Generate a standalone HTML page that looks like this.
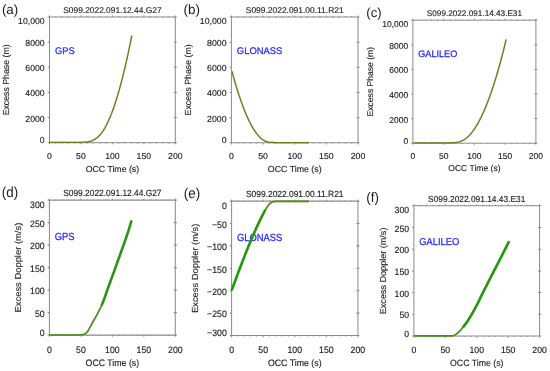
<!DOCTYPE html>
<html><head><meta charset="utf-8"><style>
html,body{margin:0;padding:0;background:#fff;}
body{width:550px;height:371px;overflow:hidden;}
svg{display:block;font-family:"Liberation Sans",sans-serif;filter:blur(0.35px);text-rendering:geometricPrecision;}
text{stroke-width:0.14px;stroke-linejoin:round;}
text.ns{stroke:none;}
text.bl{stroke-width:0.25px;}
</style></head><body>
<svg width="550" height="371" viewBox="0 0 550 371">
<rect width="550" height="371" fill="#fff"/>
<g transform="matrix(1.00000,0,0,1.00000,0.0000,0.0000)">
<text transform="translate(1.9,13.7) scale(1,1.0)" font-size="13.4" fill="#1e1e1e" stroke="#1e1e1e" class="ns">(a)</text>
<text transform="translate(112.4,13.0) scale(1,1.0)" font-size="8.4" text-anchor="middle" fill="#1e1e1e" stroke="#1e1e1e">S099.2022.091.12.44.G27</text>
<text transform="translate(44.7,24) scale(1,1.0)" font-size="8.7" text-anchor="end" fill="#1e1e1e" stroke="#1e1e1e">10,000</text>
<text transform="translate(44.7,46.14) scale(1,1.0)" font-size="8.7" text-anchor="end" fill="#1e1e1e" stroke="#1e1e1e">8000</text>
<text transform="translate(44.7,71.28) scale(1,1.0)" font-size="8.7" text-anchor="end" fill="#1e1e1e" stroke="#1e1e1e">6000</text>
<text transform="translate(44.7,96.42) scale(1,1.0)" font-size="8.7" text-anchor="end" fill="#1e1e1e" stroke="#1e1e1e">4000</text>
<text transform="translate(44.7,121.56) scale(1,1.0)" font-size="8.7" text-anchor="end" fill="#1e1e1e" stroke="#1e1e1e">2000</text>
<text transform="translate(44.7,143.2) scale(1,1.0)" font-size="8.7" text-anchor="end" fill="#1e1e1e" stroke="#1e1e1e">0</text>
<text transform="translate(49.5,159.0) scale(1,1.0)" font-size="8.7" text-anchor="middle" fill="#1e1e1e" stroke="#1e1e1e">0</text>
<text transform="translate(80.95,159.0) scale(1,1.0)" font-size="8.7" text-anchor="middle" fill="#1e1e1e" stroke="#1e1e1e">50</text>
<text transform="translate(112.4,159.0) scale(1,1.0)" font-size="8.7" text-anchor="middle" fill="#1e1e1e" stroke="#1e1e1e">100</text>
<text transform="translate(143.85,159.0) scale(1,1.0)" font-size="8.7" text-anchor="middle" fill="#1e1e1e" stroke="#1e1e1e">150</text>
<text transform="translate(175.3,159.0) scale(1,1.0)" font-size="8.7" text-anchor="middle" fill="#1e1e1e" stroke="#1e1e1e">200</text>
<text transform="translate(112.4,171.6) scale(1,1.0)" font-size="8.75" text-anchor="middle" fill="#1e1e1e" stroke="#1e1e1e">OCC Time (s)</text>
<text transform="translate(9.2,79.85) rotate(-90) scale(1,1.0)" font-size="8.75" text-anchor="middle" fill="#1e1e1e" stroke="#1e1e1e">Excess Phase (m)</text>
<text transform="translate(54.9,54.4) scale(1,1.03)" font-size="9.35" fill="#2828ff" stroke="#2828ff" class="bl">GPS</text>
<path d="M49.5 17H175.3V142.7H49.5ZM49.5 142.7v1.6M49.5 17v-1.6M55.79 142.7v0.9M55.79 17v-0.9M62.08 142.7v0.9M62.08 17v-0.9M68.37 142.7v0.9M68.37 17v-0.9M74.66 142.7v0.9M74.66 17v-0.9M80.95 142.7v1.6M80.95 17v-1.6M87.24 142.7v0.9M87.24 17v-0.9M93.53 142.7v0.9M93.53 17v-0.9M99.82 142.7v0.9M99.82 17v-0.9M106.11 142.7v0.9M106.11 17v-0.9M112.4 142.7v1.6M112.4 17v-1.6M118.69 142.7v0.9M118.69 17v-0.9M124.98 142.7v0.9M124.98 17v-0.9M131.27 142.7v0.9M131.27 17v-0.9M137.56 142.7v0.9M137.56 17v-0.9M143.85 142.7v1.6M143.85 17v-1.6M150.14 142.7v0.9M150.14 17v-0.9M156.43 142.7v0.9M156.43 17v-0.9M162.72 142.7v0.9M162.72 17v-0.9M169.01 142.7v0.9M169.01 17v-0.9M175.3 142.7v1.6M175.3 17v-1.6M49.5 17h-1.8M173.8 17h3M49.5 42.14h-1.8M173.8 42.14h3M49.5 67.28h-1.8M173.8 67.28h3M49.5 92.42h-1.8M173.8 92.42h3M49.5 117.56h-1.8M173.8 117.56h3M49.5 142.7h-1.8M173.8 142.7h3" fill="none" stroke="#8a8a8a" stroke-width="1"/>
</g>
<polyline points="49.8,142.45 51.33,142.45 52.85,142.45 54.38,142.45 55.91,142.45 57.44,142.45 58.96,142.45 60.49,142.45 62.02,142.45 63.55,142.45 65.07,142.45 66.6,142.45 68.13,142.45 69.66,142.45 71.18,142.44 72.71,142.44 74.24,142.44 75.77,142.43 77.29,142.41 78.82,142.39 80.35,142.36 81.87,142.31 83.4,142.24 84.92,142.13 86.44,141.98 87.95,141.76 89.45,141.46 90.92,141.06 92.36,140.54 93.75,139.91 95.08,139.16 96.34,138.3 97.54,137.35 98.66,136.31 99.71,135.21 100.71,134.05 101.65,132.85 102.55,131.61 103.39,130.34 104.2,129.04 104.98,127.73 105.72,126.39 106.44,125.04 107.12,123.68 107.79,122.31 108.43,120.92 109.06,119.53 109.67,118.12 110.26,116.72 110.83,115.3 111.39,113.88 111.94,112.45 112.48,111.02 113,109.59 113.51,108.15 114.02,106.71 114.51,105.26 114.99,103.81 115.47,102.36 115.93,100.91 116.39,99.45 116.85,97.99 117.29,96.53 117.73,95.07 118.16,93.6 118.59,92.14 119.01,90.67 119.42,89.2 119.83,87.73 120.23,86.25 120.63,84.78 121.03,83.3 121.42,81.83 121.8,80.35 122.18,78.87 122.56,77.39 122.93,75.91 123.3,74.42 123.66,72.94 124.02,71.46 124.38,69.97 124.73,68.49 125.08,67 125.43,65.51 125.77,64.02 126.12,62.54 126.45,61.05 126.79,59.56 127.12,58.06 127.45,56.57 127.78,55.08 128.1,53.59 128.42,52.09 128.74,50.6 129.06,49.11 129.37,47.61 129.68,46.12 129.99,44.62 130.3,43.12 130.6,41.63 130.9,40.13 131.21,38.63 131.5,37.14 131.8,35.64" fill="none" stroke="#e0603a" stroke-opacity="0.3" stroke-width="1.8" stroke-linejoin="round"/>
<polyline points="49.8,142.45 51.33,142.45 52.85,142.45 54.38,142.45 55.91,142.45 57.44,142.45 58.96,142.45 60.49,142.45 62.02,142.45 63.55,142.45 65.07,142.45 66.6,142.45 68.13,142.45 69.66,142.45 71.18,142.44 72.71,142.44 74.24,142.44 75.77,142.43 77.29,142.41 78.82,142.39 80.35,142.36 81.87,142.31 83.4,142.24 84.92,142.13 86.44,141.98 87.95,141.76 89.45,141.46 90.92,141.06 92.36,140.54 93.75,139.91 95.08,139.16 96.34,138.3 97.54,137.35 98.66,136.31 99.71,135.21 100.71,134.05 101.65,132.85 102.55,131.61 103.39,130.34 104.2,129.04 104.98,127.73 105.72,126.39 106.44,125.04 107.12,123.68 107.79,122.31 108.43,120.92 109.06,119.53 109.67,118.12 110.26,116.72 110.83,115.3 111.39,113.88 111.94,112.45 112.48,111.02 113,109.59 113.51,108.15 114.02,106.71 114.51,105.26 114.99,103.81 115.47,102.36 115.93,100.91 116.39,99.45 116.85,97.99 117.29,96.53 117.73,95.07 118.16,93.6 118.59,92.14 119.01,90.67 119.42,89.2 119.83,87.73 120.23,86.25 120.63,84.78 121.03,83.3 121.42,81.83 121.8,80.35 122.18,78.87 122.56,77.39 122.93,75.91 123.3,74.42 123.66,72.94 124.02,71.46 124.38,69.97 124.73,68.49 125.08,67 125.43,65.51 125.77,64.02 126.12,62.54 126.45,61.05 126.79,59.56 127.12,58.06 127.45,56.57 127.78,55.08 128.1,53.59 128.42,52.09 128.74,50.6 129.06,49.11 129.37,47.61 129.68,46.12 129.99,44.62 130.3,43.12 130.6,41.63 130.9,40.13 131.21,38.63 131.5,37.14 131.8,35.64" fill="none" stroke="#6a7d1f" stroke-width="1.3" stroke-linejoin="round"/>
<g transform="matrix(1.00636,0,0,1.00080,181.5852,-0.0135)">
<text transform="translate(1.9,13.7) scale(1,1.0)" font-size="13.4" fill="#1e1e1e" stroke="#1e1e1e" class="ns">(b)</text>
<text transform="translate(112.4,13.0) scale(1,1.0)" font-size="8.4" text-anchor="middle" fill="#1e1e1e" stroke="#1e1e1e">S099.2022.091.00.11.R21</text>
<text transform="translate(44.7,24) scale(1,1.0)" font-size="8.7" text-anchor="end" fill="#1e1e1e" stroke="#1e1e1e">10,000</text>
<text transform="translate(44.7,46.14) scale(1,1.0)" font-size="8.7" text-anchor="end" fill="#1e1e1e" stroke="#1e1e1e">8000</text>
<text transform="translate(44.7,71.28) scale(1,1.0)" font-size="8.7" text-anchor="end" fill="#1e1e1e" stroke="#1e1e1e">6000</text>
<text transform="translate(44.7,96.42) scale(1,1.0)" font-size="8.7" text-anchor="end" fill="#1e1e1e" stroke="#1e1e1e">4000</text>
<text transform="translate(44.7,121.56) scale(1,1.0)" font-size="8.7" text-anchor="end" fill="#1e1e1e" stroke="#1e1e1e">2000</text>
<text transform="translate(44.7,143.2) scale(1,1.0)" font-size="8.7" text-anchor="end" fill="#1e1e1e" stroke="#1e1e1e">0</text>
<text transform="translate(49.5,159.0) scale(1,1.0)" font-size="8.7" text-anchor="middle" fill="#1e1e1e" stroke="#1e1e1e">0</text>
<text transform="translate(80.95,159.0) scale(1,1.0)" font-size="8.7" text-anchor="middle" fill="#1e1e1e" stroke="#1e1e1e">50</text>
<text transform="translate(112.4,159.0) scale(1,1.0)" font-size="8.7" text-anchor="middle" fill="#1e1e1e" stroke="#1e1e1e">100</text>
<text transform="translate(143.85,159.0) scale(1,1.0)" font-size="8.7" text-anchor="middle" fill="#1e1e1e" stroke="#1e1e1e">150</text>
<text transform="translate(175.3,159.0) scale(1,1.0)" font-size="8.7" text-anchor="middle" fill="#1e1e1e" stroke="#1e1e1e">200</text>
<text transform="translate(112.4,171.6) scale(1,1.0)" font-size="8.75" text-anchor="middle" fill="#1e1e1e" stroke="#1e1e1e">OCC Time (s)</text>
<text transform="translate(9.16,79.85) rotate(-90) scale(1,1.0)" font-size="8.75" text-anchor="middle" fill="#1e1e1e" stroke="#1e1e1e">Excess Phase (m)</text>
<text transform="translate(54.9,54.4) scale(1,1.03)" font-size="9.35" fill="#2828ff" stroke="#2828ff" class="bl">GLONASS</text>
<path d="M49.5 17H175.3V142.7H49.5ZM49.5 142.7v1.6M49.5 17v-1.6M55.79 142.7v0.9M55.79 17v-0.9M62.08 142.7v0.9M62.08 17v-0.9M68.37 142.7v0.9M68.37 17v-0.9M74.66 142.7v0.9M74.66 17v-0.9M80.95 142.7v1.6M80.95 17v-1.6M87.24 142.7v0.9M87.24 17v-0.9M93.53 142.7v0.9M93.53 17v-0.9M99.82 142.7v0.9M99.82 17v-0.9M106.11 142.7v0.9M106.11 17v-0.9M112.4 142.7v1.6M112.4 17v-1.6M118.69 142.7v0.9M118.69 17v-0.9M124.98 142.7v0.9M124.98 17v-0.9M131.27 142.7v0.9M131.27 17v-0.9M137.56 142.7v0.9M137.56 17v-0.9M143.85 142.7v1.6M143.85 17v-1.6M150.14 142.7v0.9M150.14 17v-0.9M156.43 142.7v0.9M156.43 17v-0.9M162.72 142.7v0.9M162.72 17v-0.9M169.01 142.7v0.9M169.01 17v-0.9M175.3 142.7v1.6M175.3 17v-1.6M49.5 17h-1.8M173.8 17h3M49.5 42.14h-1.8M173.8 42.14h3M49.5 67.28h-1.8M173.8 67.28h3M49.5 92.42h-1.8M173.8 92.42h3M49.5 117.56h-1.8M173.8 117.56h3M49.5 142.7h-1.8M173.8 142.7h3" fill="none" stroke="#8a8a8a" stroke-width="1"/>
</g>
<polyline points="232,71.42 232.4,72.9 232.8,74.38 233.21,75.85 233.62,77.33 234.03,78.8 234.45,80.27 234.88,81.74 235.31,83.21 235.74,84.68 236.18,86.15 236.63,87.61 237.08,89.08 237.53,90.54 237.99,92 238.46,93.45 238.93,94.91 239.41,96.36 239.9,97.82 240.4,99.26 240.9,100.71 241.41,102.15 241.93,103.6 242.45,105.03 242.99,106.47 243.53,107.9 244.09,109.33 244.65,110.75 245.23,112.17 245.81,113.58 246.41,114.99 247.03,116.39 247.65,117.79 248.29,119.18 248.95,120.56 249.63,121.94 250.32,123.3 251.03,124.66 251.77,126 252.52,127.33 253.31,128.65 254.12,129.94 254.96,131.22 255.83,132.48 256.75,133.71 257.7,134.9 258.7,136.06 259.76,137.17 260.88,138.22 262.06,139.19 263.32,140.06 264.65,140.82 266.05,141.43 267.51,141.89 269.01,142.19 270.53,142.37 272.06,142.47 273.59,142.52 275.12,142.54 276.65,142.54 278.18,142.55 279.71,142.55 281.24,142.55 282.77,142.55 284.3,142.55 285.84,142.55 287.37,142.55 288.9,142.55 290.43,142.55 291.96,142.55 293.49,142.55 295.02,142.55 296.55,142.55 298.08,142.55 299.61,142.55 301.15,142.55 302.68,142.55 304.21,142.55 305.74,142.55 307.27,142.55 308.8,142.55" fill="none" stroke="#e0603a" stroke-opacity="0.3" stroke-width="1.8" stroke-linejoin="round"/>
<polyline points="232,71.42 232.4,72.9 232.8,74.38 233.21,75.85 233.62,77.33 234.03,78.8 234.45,80.27 234.88,81.74 235.31,83.21 235.74,84.68 236.18,86.15 236.63,87.61 237.08,89.08 237.53,90.54 237.99,92 238.46,93.45 238.93,94.91 239.41,96.36 239.9,97.82 240.4,99.26 240.9,100.71 241.41,102.15 241.93,103.6 242.45,105.03 242.99,106.47 243.53,107.9 244.09,109.33 244.65,110.75 245.23,112.17 245.81,113.58 246.41,114.99 247.03,116.39 247.65,117.79 248.29,119.18 248.95,120.56 249.63,121.94 250.32,123.3 251.03,124.66 251.77,126 252.52,127.33 253.31,128.65 254.12,129.94 254.96,131.22 255.83,132.48 256.75,133.71 257.7,134.9 258.7,136.06 259.76,137.17 260.88,138.22 262.06,139.19 263.32,140.06 264.65,140.82 266.05,141.43 267.51,141.89 269.01,142.19 270.53,142.37 272.06,142.47 273.59,142.52 275.12,142.54 276.65,142.54 278.18,142.55 279.71,142.55 281.24,142.55 282.77,142.55 284.3,142.55 285.84,142.55 287.37,142.55 288.9,142.55 290.43,142.55 291.96,142.55 293.49,142.55 295.02,142.55 296.55,142.55 298.08,142.55 299.61,142.55 301.15,142.55 302.68,142.55 304.21,142.55 305.74,142.55 307.27,142.55 308.8,142.55" fill="none" stroke="#6a7d1f" stroke-width="1.3" stroke-linejoin="round"/>
<g transform="matrix(0.97774,0,0,0.97852,364.5017,3.5652)">
<text transform="translate(1.9,13.7) scale(1,1.0)" font-size="13.4" fill="#1e1e1e" stroke="#1e1e1e" class="ns">(c)</text>
<text transform="translate(112.4,13.0) scale(1,1.0)" font-size="8.4" text-anchor="middle" fill="#1e1e1e" stroke="#1e1e1e">S099.2022.091.14.43.E31</text>
<text transform="translate(44.7,24) scale(1,1.0)" font-size="8.7" text-anchor="end" fill="#1e1e1e" stroke="#1e1e1e">10,000</text>
<text transform="translate(44.7,46.14) scale(1,1.0)" font-size="8.7" text-anchor="end" fill="#1e1e1e" stroke="#1e1e1e">8000</text>
<text transform="translate(44.7,71.28) scale(1,1.0)" font-size="8.7" text-anchor="end" fill="#1e1e1e" stroke="#1e1e1e">6000</text>
<text transform="translate(44.7,96.42) scale(1,1.0)" font-size="8.7" text-anchor="end" fill="#1e1e1e" stroke="#1e1e1e">4000</text>
<text transform="translate(44.7,121.56) scale(1,1.0)" font-size="8.7" text-anchor="end" fill="#1e1e1e" stroke="#1e1e1e">2000</text>
<text transform="translate(44.7,143.2) scale(1,1.0)" font-size="8.7" text-anchor="end" fill="#1e1e1e" stroke="#1e1e1e">0</text>
<text transform="translate(49.5,159.0) scale(1,1.0)" font-size="8.7" text-anchor="middle" fill="#1e1e1e" stroke="#1e1e1e">0</text>
<text transform="translate(80.95,159.0) scale(1,1.0)" font-size="8.7" text-anchor="middle" fill="#1e1e1e" stroke="#1e1e1e">50</text>
<text transform="translate(112.4,159.0) scale(1,1.0)" font-size="8.7" text-anchor="middle" fill="#1e1e1e" stroke="#1e1e1e">100</text>
<text transform="translate(143.85,159.0) scale(1,1.0)" font-size="8.7" text-anchor="middle" fill="#1e1e1e" stroke="#1e1e1e">150</text>
<text transform="translate(175.3,159.0) scale(1,1.0)" font-size="8.7" text-anchor="middle" fill="#1e1e1e" stroke="#1e1e1e">200</text>
<text transform="translate(112.4,171.6) scale(1,1.0)" font-size="8.75" text-anchor="middle" fill="#1e1e1e" stroke="#1e1e1e">OCC Time (s)</text>
<text transform="translate(9,79.85) rotate(-90) scale(1,1.0)" font-size="8.75" text-anchor="middle" fill="#1e1e1e" stroke="#1e1e1e">Excess Phase (m)</text>
<text transform="translate(54.9,54.4) scale(1,1.03)" font-size="9.35" fill="#2828ff" stroke="#2828ff" class="bl">GALILEO</text>
<path d="M49.5 17H175.3V142.7H49.5ZM49.5 142.7v1.6M49.5 17v-1.6M55.79 142.7v0.9M55.79 17v-0.9M62.08 142.7v0.9M62.08 17v-0.9M68.37 142.7v0.9M68.37 17v-0.9M74.66 142.7v0.9M74.66 17v-0.9M80.95 142.7v1.6M80.95 17v-1.6M87.24 142.7v0.9M87.24 17v-0.9M93.53 142.7v0.9M93.53 17v-0.9M99.82 142.7v0.9M99.82 17v-0.9M106.11 142.7v0.9M106.11 17v-0.9M112.4 142.7v1.6M112.4 17v-1.6M118.69 142.7v0.9M118.69 17v-0.9M124.98 142.7v0.9M124.98 17v-0.9M131.27 142.7v0.9M131.27 17v-0.9M137.56 142.7v0.9M137.56 17v-0.9M143.85 142.7v1.6M143.85 17v-1.6M150.14 142.7v0.9M150.14 17v-0.9M156.43 142.7v0.9M156.43 17v-0.9M162.72 142.7v0.9M162.72 17v-0.9M169.01 142.7v0.9M169.01 17v-0.9M175.3 142.7v1.6M175.3 17v-1.6M49.5 17h-1.8M173.8 17h3M49.5 42.14h-1.8M173.8 42.14h3M49.5 67.28h-1.8M173.8 67.28h3M49.5 92.42h-1.8M173.8 92.42h3M49.5 117.56h-1.8M173.8 117.56h3M49.5 142.7h-1.8M173.8 142.7h3" fill="none" stroke="#8a8a8a" stroke-width="1"/>
</g>
<polyline points="413.4,142.85 414.93,142.85 416.45,142.85 417.98,142.85 419.5,142.85 421.03,142.85 422.55,142.85 424.08,142.85 425.6,142.85 427.13,142.85 428.66,142.85 430.18,142.85 431.71,142.85 433.23,142.85 434.76,142.85 436.28,142.85 437.81,142.85 439.33,142.85 440.86,142.85 442.39,142.85 443.91,142.85 445.44,142.84 446.96,142.84 448.49,142.82 450.01,142.8 451.54,142.76 453.06,142.7 454.58,142.59 456.1,142.42 457.6,142.17 459.09,141.83 460.55,141.37 461.96,140.8 463.32,140.12 464.63,139.33 465.88,138.45 467.07,137.5 468.2,136.48 469.28,135.4 470.32,134.28 471.31,133.13 472.26,131.93 473.18,130.71 474.06,129.47 474.92,128.21 475.75,126.93 476.55,125.63 477.32,124.31 478.08,122.99 478.82,121.65 479.53,120.31 480.23,118.95 480.92,117.59 481.59,116.22 482.24,114.84 482.88,113.45 483.51,112.06 484.12,110.67 484.73,109.27 485.32,107.86 485.9,106.45 486.47,105.04 487.04,103.62 487.59,102.2 488.14,100.77 488.67,99.35 489.2,97.91 489.73,96.48 490.24,95.05 490.75,93.61 491.25,92.17 491.74,90.72 492.23,89.28 492.71,87.83 493.19,86.38 493.66,84.93 494.13,83.48 494.59,82.02 495.04,80.57 495.49,79.11 495.94,77.65 496.38,76.19 496.81,74.73 497.25,73.26 497.67,71.8 498.1,70.33 498.52,68.87 498.93,67.4 499.34,65.93 499.75,64.46 500.16,62.99 500.56,61.52 500.96,60.05 501.35,58.57 501.74,57.1 502.13,55.62 502.51,54.14 502.89,52.67 503.27,51.19 503.65,49.71 504.02,48.23 504.39,46.75 504.76,45.27 505.12,43.79 505.48,42.31 505.84,40.83 506.2,39.34" fill="none" stroke="#e0603a" stroke-opacity="0.3" stroke-width="1.8" stroke-linejoin="round"/>
<polyline points="413.4,142.85 414.93,142.85 416.45,142.85 417.98,142.85 419.5,142.85 421.03,142.85 422.55,142.85 424.08,142.85 425.6,142.85 427.13,142.85 428.66,142.85 430.18,142.85 431.71,142.85 433.23,142.85 434.76,142.85 436.28,142.85 437.81,142.85 439.33,142.85 440.86,142.85 442.39,142.85 443.91,142.85 445.44,142.84 446.96,142.84 448.49,142.82 450.01,142.8 451.54,142.76 453.06,142.7 454.58,142.59 456.1,142.42 457.6,142.17 459.09,141.83 460.55,141.37 461.96,140.8 463.32,140.12 464.63,139.33 465.88,138.45 467.07,137.5 468.2,136.48 469.28,135.4 470.32,134.28 471.31,133.13 472.26,131.93 473.18,130.71 474.06,129.47 474.92,128.21 475.75,126.93 476.55,125.63 477.32,124.31 478.08,122.99 478.82,121.65 479.53,120.31 480.23,118.95 480.92,117.59 481.59,116.22 482.24,114.84 482.88,113.45 483.51,112.06 484.12,110.67 484.73,109.27 485.32,107.86 485.9,106.45 486.47,105.04 487.04,103.62 487.59,102.2 488.14,100.77 488.67,99.35 489.2,97.91 489.73,96.48 490.24,95.05 490.75,93.61 491.25,92.17 491.74,90.72 492.23,89.28 492.71,87.83 493.19,86.38 493.66,84.93 494.13,83.48 494.59,82.02 495.04,80.57 495.49,79.11 495.94,77.65 496.38,76.19 496.81,74.73 497.25,73.26 497.67,71.8 498.1,70.33 498.52,68.87 498.93,67.4 499.34,65.93 499.75,64.46 500.16,62.99 500.56,61.52 500.96,60.05 501.35,58.57 501.74,57.1 502.13,55.62 502.51,54.14 502.89,52.67 503.27,51.19 503.65,49.71 504.02,48.23 504.39,46.75 504.76,45.27 505.12,43.79 505.48,42.31 505.84,40.83 506.2,39.34" fill="none" stroke="#6a7d1f" stroke-width="1.3" stroke-linejoin="round"/>
<g transform="matrix(1.00079,0,0,1.07399,-0.1393,181.8422)">
<text transform="translate(1.9,13.7) scale(1,1.0)" font-size="13.4" fill="#1e1e1e" stroke="#1e1e1e" class="ns">(d)</text>
<text transform="translate(112.4,13.0) scale(1,1.0)" font-size="8.4" text-anchor="middle" fill="#1e1e1e" stroke="#1e1e1e">S099.2022.091.12.44.G27</text>
<text transform="translate(44.7,24) scale(1,1.0)" font-size="8.7" text-anchor="end" fill="#1e1e1e" stroke="#1e1e1e">300</text>
<text transform="translate(44.7,41.95) scale(1,1.0)" font-size="8.7" text-anchor="end" fill="#1e1e1e" stroke="#1e1e1e">250</text>
<text transform="translate(44.7,62.9) scale(1,1.0)" font-size="8.7" text-anchor="end" fill="#1e1e1e" stroke="#1e1e1e">200</text>
<text transform="translate(44.7,83.85) scale(1,1.0)" font-size="8.7" text-anchor="end" fill="#1e1e1e" stroke="#1e1e1e">150</text>
<text transform="translate(44.7,104.8) scale(1,1.0)" font-size="8.7" text-anchor="end" fill="#1e1e1e" stroke="#1e1e1e">100</text>
<text transform="translate(44.7,125.75) scale(1,1.0)" font-size="8.7" text-anchor="end" fill="#1e1e1e" stroke="#1e1e1e">50</text>
<text transform="translate(44.7,143.2) scale(1,1.0)" font-size="8.7" text-anchor="end" fill="#1e1e1e" stroke="#1e1e1e">0</text>
<text transform="translate(49.5,159.0) scale(1,1.0)" font-size="8.7" text-anchor="middle" fill="#1e1e1e" stroke="#1e1e1e">0</text>
<text transform="translate(80.95,159.0) scale(1,1.0)" font-size="8.7" text-anchor="middle" fill="#1e1e1e" stroke="#1e1e1e">50</text>
<text transform="translate(112.4,159.0) scale(1,1.0)" font-size="8.7" text-anchor="middle" fill="#1e1e1e" stroke="#1e1e1e">100</text>
<text transform="translate(143.85,159.0) scale(1,1.0)" font-size="8.7" text-anchor="middle" fill="#1e1e1e" stroke="#1e1e1e">150</text>
<text transform="translate(175.3,159.0) scale(1,1.0)" font-size="8.7" text-anchor="middle" fill="#1e1e1e" stroke="#1e1e1e">200</text>
<text transform="translate(112.4,171.6) scale(1,1.0)" font-size="8.75" text-anchor="middle" fill="#1e1e1e" stroke="#1e1e1e">OCC Time (s)</text>
<text transform="translate(21.52,79.85) rotate(-90) scale(1,1.0)" font-size="8.75" text-anchor="middle" fill="#1e1e1e" stroke="#1e1e1e">Excess Doppler (m/s)</text>
<text transform="translate(54.9,54.4) scale(1,1.03)" font-size="9.35" fill="#2828ff" stroke="#2828ff" class="bl">GPS</text>
<path d="M49.5 17H175.3V142.7H49.5ZM49.5 142.7v1.6M49.5 17v-1.6M55.79 142.7v0.9M55.79 17v-0.9M62.08 142.7v0.9M62.08 17v-0.9M68.37 142.7v0.9M68.37 17v-0.9M74.66 142.7v0.9M74.66 17v-0.9M80.95 142.7v1.6M80.95 17v-1.6M87.24 142.7v0.9M87.24 17v-0.9M93.53 142.7v0.9M93.53 17v-0.9M99.82 142.7v0.9M99.82 17v-0.9M106.11 142.7v0.9M106.11 17v-0.9M112.4 142.7v1.6M112.4 17v-1.6M118.69 142.7v0.9M118.69 17v-0.9M124.98 142.7v0.9M124.98 17v-0.9M131.27 142.7v0.9M131.27 17v-0.9M137.56 142.7v0.9M137.56 17v-0.9M143.85 142.7v1.6M143.85 17v-1.6M150.14 142.7v0.9M150.14 17v-0.9M156.43 142.7v0.9M156.43 17v-0.9M162.72 142.7v0.9M162.72 17v-0.9M169.01 142.7v0.9M169.01 17v-0.9M175.3 142.7v1.6M175.3 17v-1.6M49.5 17h-1.8M173.8 17h3M49.5 37.95h-1.8M173.8 37.95h3M49.5 58.9h-1.8M173.8 58.9h3M49.5 79.85h-1.8M173.8 79.85h3M49.5 100.8h-1.8M173.8 100.8h3M49.5 121.75h-1.8M173.8 121.75h3M49.5 142.7h-1.8M173.8 142.7h3" fill="none" stroke="#8a8a8a" stroke-width="1"/>
</g>
<polyline points="49.8,335 51.32,335 52.85,335 54.37,335 55.89,335 57.42,335 58.94,335 60.46,335 61.99,335 63.51,335 65.03,335 66.56,335 68.08,335 69.6,335 71.12,335 72.65,335 74.17,335 75.69,335 77.22,335 78.74,334.99 80.26,334.9 81.78,334.73 83.28,334.48 84.69,333.91 85.98,333.11 87.09,332.07 88.03,330.87 88.77,329.54 89.47,328.19 90.2,326.85 90.94,325.52 91.66,324.18 92.39,322.84 93.13,321.51 93.88,320.19 94.64,318.86 95.39,317.54 96.13,316.21 96.86,314.87 97.58,313.53 98.29,312.18 98.99,310.83 99.68,309.47 100.35,308.1 101.01,306.73 101.64,305.34 102.24,303.94 102.81,302.53 103.36,301.11 103.9,299.68 104.43,298.26 104.94,296.82 105.45,295.38 105.94,293.94 106.43,292.5 106.93,291.06 107.44,289.63 107.95,288.19 108.46,286.76 108.97,285.32 109.49,283.89 110.01,282.46 110.53,281.03 111.05,279.6 111.58,278.17 112.11,276.74 112.63,275.31 113.16,273.88 113.69,272.45 114.22,271.02 114.74,269.59 115.26,268.16 115.78,266.73 116.29,265.29 116.81,263.86 117.32,262.43 117.83,260.99 118.34,259.56 118.85,258.12 119.36,256.69 119.87,255.25 120.38,253.81 120.89,252.38 121.4,250.94 121.91,249.51 122.43,248.08 122.95,246.64 123.47,245.21 123.98,243.78 124.5,242.34 125.01,240.91 125.51,239.47 126.01,238.03 126.5,236.59 126.98,235.15 127.46,233.7 127.93,232.25 128.39,230.8 128.85,229.35 129.3,227.89 129.75,226.44 130.19,224.98 130.63,223.52 131.07,222.06 131.5,220.6" fill="none" stroke="#e0603a" stroke-opacity="0.35" stroke-width="1.9" stroke-linejoin="round"/>
<polyline points="49.8,335 51.32,335 52.85,335 54.37,335 55.89,335 57.42,335 58.94,335 60.46,335 61.99,335 63.51,335 65.03,335 66.56,335 68.08,335 69.6,335 71.12,335 72.65,335 74.17,335 75.69,335 77.22,335 78.74,334.99 80.26,334.9 81.78,334.73 83.28,334.48 84.69,333.91 85.98,333.11 87.09,332.07 88.03,330.87 88.77,329.54 89.47,328.19 90.2,326.85 90.94,325.52 91.66,324.18 92.39,322.84 93.13,321.51 93.88,320.19 94.64,318.86 95.39,317.54 96.13,316.21 96.86,314.87 97.58,313.53 98.29,312.18 98.99,310.83 99.68,309.47 100.35,308.1 101.01,306.73 101.64,305.34 102.24,303.94 102.81,302.53 103.36,301.11 103.9,299.68 104.43,298.26 104.94,296.82 105.45,295.38 105.94,293.94 106.43,292.5 106.93,291.06 107.44,289.63 107.95,288.19 108.46,286.76 108.97,285.32 109.49,283.89 110.01,282.46 110.53,281.03 111.05,279.6 111.58,278.17 112.11,276.74 112.63,275.31 113.16,273.88 113.69,272.45 114.22,271.02 114.74,269.59 115.26,268.16 115.78,266.73 116.29,265.29 116.81,263.86 117.32,262.43 117.83,260.99 118.34,259.56 118.85,258.12 119.36,256.69 119.87,255.25 120.38,253.81 120.89,252.38 121.4,250.94 121.91,249.51 122.43,248.08 122.95,246.64 123.47,245.21 123.98,243.78 124.5,242.34 125.01,240.91 125.51,239.47 126.01,238.03 126.5,236.59 126.98,235.15 127.46,233.7 127.93,232.25 128.39,230.8 128.85,229.35 129.3,227.89 129.75,226.44 130.19,224.98 130.63,223.52 131.07,222.06 131.5,220.6" fill="none" stroke="#3c9418" stroke-width="1.6" stroke-linejoin="round"/>
<polyline points="101.64,305.34 102.24,303.94 102.81,302.53 103.36,301.11 103.9,299.68 104.43,298.26 104.94,296.82 105.45,295.38 105.94,293.94 106.43,292.5 106.93,291.06 107.44,289.63 107.95,288.19 108.46,286.76 108.97,285.32 109.49,283.89 110.01,282.46 110.53,281.03 111.05,279.6 111.58,278.17 112.11,276.74 112.63,275.31 113.16,273.88 113.69,272.45 114.22,271.02 114.74,269.59 115.26,268.16 115.78,266.73 116.29,265.29 116.81,263.86 117.32,262.43 117.83,260.99 118.34,259.56 118.85,258.12 119.36,256.69 119.87,255.25 120.38,253.81 120.89,252.38 121.4,250.94 121.91,249.51 122.43,248.08 122.95,246.64 123.47,245.21 123.98,243.78 124.5,242.34 125.01,240.91 125.51,239.47 126.01,238.03 126.5,236.59 126.98,235.15 127.46,233.7 127.93,232.25 128.39,230.8 128.85,229.35 129.3,227.89 129.75,226.44 130.19,224.98 130.63,223.52 131.07,222.06 131.5,220.6" fill="none" stroke="#e0603a" stroke-opacity="0.45" stroke-width="2.8000000000000003" stroke-linejoin="round"/>
<polyline points="101.64,305.34 102.24,303.94 102.81,302.53 103.36,301.11 103.9,299.68 104.43,298.26 104.94,296.82 105.45,295.38 105.94,293.94 106.43,292.5 106.93,291.06 107.44,289.63 107.95,288.19 108.46,286.76 108.97,285.32 109.49,283.89 110.01,282.46 110.53,281.03 111.05,279.6 111.58,278.17 112.11,276.74 112.63,275.31 113.16,273.88 113.69,272.45 114.22,271.02 114.74,269.59 115.26,268.16 115.78,266.73 116.29,265.29 116.81,263.86 117.32,262.43 117.83,260.99 118.34,259.56 118.85,258.12 119.36,256.69 119.87,255.25 120.38,253.81 120.89,252.38 121.4,250.94 121.91,249.51 122.43,248.08 122.95,246.64 123.47,245.21 123.98,243.78 124.5,242.34 125.01,240.91 125.51,239.47 126.01,238.03 126.5,236.59 126.98,235.15 127.46,233.7 127.93,232.25 128.39,230.8 128.85,229.35 129.3,227.89 129.75,226.44 130.19,224.98 130.63,223.52 131.07,222.06 131.5,220.6" fill="none" stroke="#10a010" stroke-width="2.2" stroke-linejoin="round"/>
<g transform="matrix(1.00397,0,0,1.06921,181.9033,182.9234)">
<text transform="translate(1.9,13.7) scale(1,1.0)" font-size="13.4" fill="#1e1e1e" stroke="#1e1e1e" class="ns">(e)</text>
<text transform="translate(112.4,13.0) scale(1,1.0)" font-size="8.4" text-anchor="middle" fill="#1e1e1e" stroke="#1e1e1e">S099.2022.091.00.11.R21</text>
<text transform="translate(44.7,24) scale(1,1.0)" font-size="8.7" text-anchor="end" fill="#1e1e1e" stroke="#1e1e1e">0</text>
<text transform="translate(44.7,41.95) scale(1,1.0)" font-size="8.7" text-anchor="end" fill="#1e1e1e" stroke="#1e1e1e">−50</text>
<text transform="translate(44.7,62.9) scale(1,1.0)" font-size="8.7" text-anchor="end" fill="#1e1e1e" stroke="#1e1e1e">−100</text>
<text transform="translate(44.7,83.85) scale(1,1.0)" font-size="8.7" text-anchor="end" fill="#1e1e1e" stroke="#1e1e1e">−150</text>
<text transform="translate(44.7,104.8) scale(1,1.0)" font-size="8.7" text-anchor="end" fill="#1e1e1e" stroke="#1e1e1e">−200</text>
<text transform="translate(44.7,125.75) scale(1,1.0)" font-size="8.7" text-anchor="end" fill="#1e1e1e" stroke="#1e1e1e">−250</text>
<text transform="translate(44.7,143.2) scale(1,1.0)" font-size="8.7" text-anchor="end" fill="#1e1e1e" stroke="#1e1e1e">−300</text>
<text transform="translate(49.5,159.0) scale(1,1.0)" font-size="8.7" text-anchor="middle" fill="#1e1e1e" stroke="#1e1e1e">0</text>
<text transform="translate(80.95,159.0) scale(1,1.0)" font-size="8.7" text-anchor="middle" fill="#1e1e1e" stroke="#1e1e1e">50</text>
<text transform="translate(112.4,159.0) scale(1,1.0)" font-size="8.7" text-anchor="middle" fill="#1e1e1e" stroke="#1e1e1e">100</text>
<text transform="translate(143.85,159.0) scale(1,1.0)" font-size="8.7" text-anchor="middle" fill="#1e1e1e" stroke="#1e1e1e">150</text>
<text transform="translate(175.3,159.0) scale(1,1.0)" font-size="8.7" text-anchor="middle" fill="#1e1e1e" stroke="#1e1e1e">200</text>
<text transform="translate(112.4,171.6) scale(1,1.0)" font-size="8.75" text-anchor="middle" fill="#1e1e1e" stroke="#1e1e1e">OCC Time (s)</text>
<text transform="translate(15.83,79.85) rotate(-90) scale(1,1.0)" font-size="8.75" text-anchor="middle" fill="#1e1e1e" stroke="#1e1e1e">Excess Doppler (m/s)</text>
<text transform="translate(54.9,54.4) scale(1,1.03)" font-size="9.35" fill="#2828ff" stroke="#2828ff" class="bl">GLONASS</text>
<path d="M49.5 17H175.3V142.7H49.5ZM49.5 142.7v1.6M49.5 17v-1.6M55.79 142.7v0.9M55.79 17v-0.9M62.08 142.7v0.9M62.08 17v-0.9M68.37 142.7v0.9M68.37 17v-0.9M74.66 142.7v0.9M74.66 17v-0.9M80.95 142.7v1.6M80.95 17v-1.6M87.24 142.7v0.9M87.24 17v-0.9M93.53 142.7v0.9M93.53 17v-0.9M99.82 142.7v0.9M99.82 17v-0.9M106.11 142.7v0.9M106.11 17v-0.9M112.4 142.7v1.6M112.4 17v-1.6M118.69 142.7v0.9M118.69 17v-0.9M124.98 142.7v0.9M124.98 17v-0.9M131.27 142.7v0.9M131.27 17v-0.9M137.56 142.7v0.9M137.56 17v-0.9M143.85 142.7v1.6M143.85 17v-1.6M150.14 142.7v0.9M150.14 17v-0.9M156.43 142.7v0.9M156.43 17v-0.9M162.72 142.7v0.9M162.72 17v-0.9M169.01 142.7v0.9M169.01 17v-0.9M175.3 142.7v1.6M175.3 17v-1.6M49.5 17h-1.8M173.8 17h3M49.5 37.95h-1.8M173.8 37.95h3M49.5 58.9h-1.8M173.8 58.9h3M49.5 79.85h-1.8M173.8 79.85h3M49.5 100.8h-1.8M173.8 100.8h3M49.5 121.75h-1.8M173.8 121.75h3M49.5 142.7h-1.8M173.8 142.7h3" fill="none" stroke="#8a8a8a" stroke-width="1"/>
</g>
<polyline points="231.7,290.31 232.22,288.87 232.74,287.43 233.26,286 233.79,284.56 234.31,283.12 234.84,281.68 235.37,280.25 235.9,278.81 236.43,277.38 236.97,275.95 237.5,274.51 238.04,273.08 238.58,271.65 239.12,270.22 239.66,268.79 240.21,267.36 240.75,265.93 241.3,264.5 241.85,263.07 242.41,261.64 242.96,260.22 243.52,258.79 244.08,257.37 244.64,255.94 245.2,254.52 245.77,253.1 246.34,251.68 246.91,250.26 247.48,248.84 248.06,247.43 248.64,246.01 249.22,244.59 249.81,243.18 250.4,241.77 250.99,240.36 251.59,238.95 252.18,237.54 252.79,236.13 253.39,234.73 254,233.33 254.62,231.93 255.24,230.53 255.86,229.13 256.49,227.74 257.13,226.34 257.77,224.95 258.41,223.57 259.06,222.18 259.72,220.8 260.39,219.42 261.06,218.05 261.75,216.68 262.44,215.32 263.14,213.96 263.86,212.61 264.59,211.26 265.34,209.93 266.12,208.61 266.93,207.31 267.78,206.04 268.69,204.81 269.71,203.67 270.88,202.69 272.23,201.99 273.72,201.62 275.24,201.47 276.77,201.42 278.3,201.41 279.83,201.4 281.36,201.4 282.89,201.4 284.42,201.4 285.95,201.4 287.48,201.4 289.01,201.4 290.54,201.4 292.07,201.4 293.6,201.4 295.13,201.4 296.66,201.4 298.19,201.4 299.72,201.4 301.25,201.4 302.78,201.4 304.31,201.4 305.84,201.4 307.37,201.4 308.9,201.4" fill="none" stroke="#e0603a" stroke-opacity="0.35" stroke-width="1.9" stroke-linejoin="round"/>
<polyline points="231.7,290.31 232.22,288.87 232.74,287.43 233.26,286 233.79,284.56 234.31,283.12 234.84,281.68 235.37,280.25 235.9,278.81 236.43,277.38 236.97,275.95 237.5,274.51 238.04,273.08 238.58,271.65 239.12,270.22 239.66,268.79 240.21,267.36 240.75,265.93 241.3,264.5 241.85,263.07 242.41,261.64 242.96,260.22 243.52,258.79 244.08,257.37 244.64,255.94 245.2,254.52 245.77,253.1 246.34,251.68 246.91,250.26 247.48,248.84 248.06,247.43 248.64,246.01 249.22,244.59 249.81,243.18 250.4,241.77 250.99,240.36 251.59,238.95 252.18,237.54 252.79,236.13 253.39,234.73 254,233.33 254.62,231.93 255.24,230.53 255.86,229.13 256.49,227.74 257.13,226.34 257.77,224.95 258.41,223.57 259.06,222.18 259.72,220.8 260.39,219.42 261.06,218.05 261.75,216.68 262.44,215.32 263.14,213.96 263.86,212.61 264.59,211.26 265.34,209.93 266.12,208.61 266.93,207.31 267.78,206.04 268.69,204.81 269.71,203.67 270.88,202.69 272.23,201.99 273.72,201.62 275.24,201.47 276.77,201.42 278.3,201.41 279.83,201.4 281.36,201.4 282.89,201.4 284.42,201.4 285.95,201.4 287.48,201.4 289.01,201.4 290.54,201.4 292.07,201.4 293.6,201.4 295.13,201.4 296.66,201.4 298.19,201.4 299.72,201.4 301.25,201.4 302.78,201.4 304.31,201.4 305.84,201.4 307.37,201.4 308.9,201.4" fill="none" stroke="#3c9418" stroke-width="1.6" stroke-linejoin="round"/>
<polyline points="231.7,290.31 232.22,288.87 232.74,287.43 233.26,286 233.79,284.56 234.31,283.12 234.84,281.68 235.37,280.25 235.9,278.81 236.43,277.38 236.97,275.95 237.5,274.51 238.04,273.08 238.58,271.65 239.12,270.22 239.66,268.79 240.21,267.36 240.75,265.93 241.3,264.5 241.85,263.07 242.41,261.64 242.96,260.22 243.52,258.79 244.08,257.37 244.64,255.94 245.2,254.52 245.77,253.1 246.34,251.68 246.91,250.26 247.48,248.84 248.06,247.43 248.64,246.01 249.22,244.59 249.81,243.18 250.4,241.77 250.99,240.36 251.59,238.95 252.18,237.54 252.79,236.13 253.39,234.73 254,233.33 254.62,231.93 255.24,230.53 255.86,229.13 256.49,227.74 257.13,226.34 257.77,224.95 258.41,223.57 259.06,222.18 259.72,220.8 260.39,219.42 261.06,218.05 261.75,216.68 262.44,215.32 263.14,213.96 263.86,212.61 264.59,211.26 265.34,209.93" fill="none" stroke="#e0603a" stroke-opacity="0.45" stroke-width="2.9" stroke-linejoin="round"/>
<polyline points="231.7,290.31 232.22,288.87 232.74,287.43 233.26,286 233.79,284.56 234.31,283.12 234.84,281.68 235.37,280.25 235.9,278.81 236.43,277.38 236.97,275.95 237.5,274.51 238.04,273.08 238.58,271.65 239.12,270.22 239.66,268.79 240.21,267.36 240.75,265.93 241.3,264.5 241.85,263.07 242.41,261.64 242.96,260.22 243.52,258.79 244.08,257.37 244.64,255.94 245.2,254.52 245.77,253.1 246.34,251.68 246.91,250.26 247.48,248.84 248.06,247.43 248.64,246.01 249.22,244.59 249.81,243.18 250.4,241.77 250.99,240.36 251.59,238.95 252.18,237.54 252.79,236.13 253.39,234.73 254,233.33 254.62,231.93 255.24,230.53 255.86,229.13 256.49,227.74 257.13,226.34 257.77,224.95 258.41,223.57 259.06,222.18 259.72,220.8 260.39,219.42 261.06,218.05 261.75,216.68 262.44,215.32 263.14,213.96 263.86,212.61 264.59,211.26 265.34,209.93" fill="none" stroke="#10a010" stroke-width="2.3" stroke-linejoin="round"/>
<g transform="matrix(0.99921,0,0,1.03580,364.4393,188.1914)">
<text transform="translate(1.9,13.7) scale(1,1.0)" font-size="13.4" fill="#1e1e1e" stroke="#1e1e1e" class="ns">(f)</text>
<text transform="translate(112.4,13.0) scale(1,1.0)" font-size="8.4" text-anchor="middle" fill="#1e1e1e" stroke="#1e1e1e">S099.2022.091.14.43.E31</text>
<text transform="translate(44.7,24) scale(1,1.0)" font-size="8.7" text-anchor="end" fill="#1e1e1e" stroke="#1e1e1e">300</text>
<text transform="translate(44.7,41.95) scale(1,1.0)" font-size="8.7" text-anchor="end" fill="#1e1e1e" stroke="#1e1e1e">250</text>
<text transform="translate(44.7,62.9) scale(1,1.0)" font-size="8.7" text-anchor="end" fill="#1e1e1e" stroke="#1e1e1e">200</text>
<text transform="translate(44.7,83.85) scale(1,1.0)" font-size="8.7" text-anchor="end" fill="#1e1e1e" stroke="#1e1e1e">150</text>
<text transform="translate(44.7,104.8) scale(1,1.0)" font-size="8.7" text-anchor="end" fill="#1e1e1e" stroke="#1e1e1e">100</text>
<text transform="translate(44.7,125.75) scale(1,1.0)" font-size="8.7" text-anchor="end" fill="#1e1e1e" stroke="#1e1e1e">50</text>
<text transform="translate(44.7,143.2) scale(1,1.0)" font-size="8.7" text-anchor="end" fill="#1e1e1e" stroke="#1e1e1e">0</text>
<text transform="translate(49.5,159.0) scale(1,1.0)" font-size="8.7" text-anchor="middle" fill="#1e1e1e" stroke="#1e1e1e">0</text>
<text transform="translate(80.95,159.0) scale(1,1.0)" font-size="8.7" text-anchor="middle" fill="#1e1e1e" stroke="#1e1e1e">50</text>
<text transform="translate(112.4,159.0) scale(1,1.0)" font-size="8.7" text-anchor="middle" fill="#1e1e1e" stroke="#1e1e1e">100</text>
<text transform="translate(143.85,159.0) scale(1,1.0)" font-size="8.7" text-anchor="middle" fill="#1e1e1e" stroke="#1e1e1e">150</text>
<text transform="translate(175.3,159.0) scale(1,1.0)" font-size="8.7" text-anchor="middle" fill="#1e1e1e" stroke="#1e1e1e">200</text>
<text transform="translate(112.4,171.6) scale(1,1.0)" font-size="8.75" text-anchor="middle" fill="#1e1e1e" stroke="#1e1e1e">OCC Time (s)</text>
<text transform="translate(21.18,79.85) rotate(-90) scale(1,1.0)" font-size="8.75" text-anchor="middle" fill="#1e1e1e" stroke="#1e1e1e">Excess Doppler (m/s)</text>
<text transform="translate(54.9,54.4) scale(1,1.03)" font-size="9.35" fill="#2828ff" stroke="#2828ff" class="bl">GALILEO</text>
<path d="M49.5 17H175.3V142.7H49.5ZM49.5 142.7v1.6M49.5 17v-1.6M55.79 142.7v0.9M55.79 17v-0.9M62.08 142.7v0.9M62.08 17v-0.9M68.37 142.7v0.9M68.37 17v-0.9M74.66 142.7v0.9M74.66 17v-0.9M80.95 142.7v1.6M80.95 17v-1.6M87.24 142.7v0.9M87.24 17v-0.9M93.53 142.7v0.9M93.53 17v-0.9M99.82 142.7v0.9M99.82 17v-0.9M106.11 142.7v0.9M106.11 17v-0.9M112.4 142.7v1.6M112.4 17v-1.6M118.69 142.7v0.9M118.69 17v-0.9M124.98 142.7v0.9M124.98 17v-0.9M131.27 142.7v0.9M131.27 17v-0.9M137.56 142.7v0.9M137.56 17v-0.9M143.85 142.7v1.6M143.85 17v-1.6M150.14 142.7v0.9M150.14 17v-0.9M156.43 142.7v0.9M156.43 17v-0.9M162.72 142.7v0.9M162.72 17v-0.9M169.01 142.7v0.9M169.01 17v-0.9M175.3 142.7v1.6M175.3 17v-1.6M49.5 17h-1.8M173.8 17h3M49.5 37.95h-1.8M173.8 37.95h3M49.5 58.9h-1.8M173.8 58.9h3M49.5 79.85h-1.8M173.8 79.85h3M49.5 100.8h-1.8M173.8 100.8h3M49.5 121.75h-1.8M173.8 121.75h3M49.5 142.7h-1.8M173.8 142.7h3" fill="none" stroke="#8a8a8a" stroke-width="1"/>
</g>
<polyline points="414.2,335.9 415.73,335.9 417.26,335.9 418.79,335.9 420.31,335.9 421.84,335.9 423.37,335.9 424.9,335.9 426.43,335.9 427.96,335.9 429.48,335.9 431.01,335.9 432.54,335.9 434.07,335.9 435.6,335.9 437.13,335.9 438.66,335.9 440.18,335.9 441.71,335.9 443.24,335.9 444.77,335.9 446.3,335.9 447.83,335.9 449.36,335.9 450.88,335.89 452.41,335.81 453.9,335.47 455.28,334.83 456.52,333.94 457.71,332.98 458.83,331.95 459.91,330.86 460.95,329.74 461.93,328.57 462.87,327.36 463.8,326.15 464.74,324.95 465.67,323.73 466.59,322.51 467.47,321.26 468.3,319.98 469.11,318.68 469.91,317.38 470.7,316.07 471.48,314.76 472.26,313.44 473.02,312.11 473.77,310.78 474.5,309.44 475.23,308.1 475.94,306.74 476.65,305.39 477.34,304.03 478.02,302.66 478.7,301.29 479.36,299.91 480.03,298.53 480.69,297.16 481.36,295.78 482.04,294.41 482.72,293.05 483.41,291.68 484.1,290.32 484.79,288.95 485.48,287.59 486.17,286.23 486.86,284.86 487.56,283.5 488.25,282.14 488.94,280.77 489.63,279.41 490.32,278.05 491.02,276.69 491.72,275.33 492.41,273.97 493.11,272.61 493.82,271.25 494.52,269.9 495.23,268.54 495.94,267.19 496.64,265.83 497.35,264.47 498.05,263.12 498.75,261.76 499.44,260.4 500.14,259.04 500.84,257.67 501.53,256.31 502.22,254.95 502.91,253.58 503.59,252.22 504.28,250.85 504.96,249.48 505.64,248.12 506.33,246.75 507.02,245.39 507.71,244.02 508.4,242.66 509.1,241.3" fill="none" stroke="#e0603a" stroke-opacity="0.35" stroke-width="1.9" stroke-linejoin="round"/>
<polyline points="414.2,335.9 415.73,335.9 417.26,335.9 418.79,335.9 420.31,335.9 421.84,335.9 423.37,335.9 424.9,335.9 426.43,335.9 427.96,335.9 429.48,335.9 431.01,335.9 432.54,335.9 434.07,335.9 435.6,335.9 437.13,335.9 438.66,335.9 440.18,335.9 441.71,335.9 443.24,335.9 444.77,335.9 446.3,335.9 447.83,335.9 449.36,335.9 450.88,335.89 452.41,335.81 453.9,335.47 455.28,334.83 456.52,333.94 457.71,332.98 458.83,331.95 459.91,330.86 460.95,329.74 461.93,328.57 462.87,327.36 463.8,326.15 464.74,324.95 465.67,323.73 466.59,322.51 467.47,321.26 468.3,319.98 469.11,318.68 469.91,317.38 470.7,316.07 471.48,314.76 472.26,313.44 473.02,312.11 473.77,310.78 474.5,309.44 475.23,308.1 475.94,306.74 476.65,305.39 477.34,304.03 478.02,302.66 478.7,301.29 479.36,299.91 480.03,298.53 480.69,297.16 481.36,295.78 482.04,294.41 482.72,293.05 483.41,291.68 484.1,290.32 484.79,288.95 485.48,287.59 486.17,286.23 486.86,284.86 487.56,283.5 488.25,282.14 488.94,280.77 489.63,279.41 490.32,278.05 491.02,276.69 491.72,275.33 492.41,273.97 493.11,272.61 493.82,271.25 494.52,269.9 495.23,268.54 495.94,267.19 496.64,265.83 497.35,264.47 498.05,263.12 498.75,261.76 499.44,260.4 500.14,259.04 500.84,257.67 501.53,256.31 502.22,254.95 502.91,253.58 503.59,252.22 504.28,250.85 504.96,249.48 505.64,248.12 506.33,246.75 507.02,245.39 507.71,244.02 508.4,242.66 509.1,241.3" fill="none" stroke="#3c9418" stroke-width="1.6" stroke-linejoin="round"/>
<polyline points="462.87,327.36 463.8,326.15 464.74,324.95 465.67,323.73 466.59,322.51 467.47,321.26 468.3,319.98 469.11,318.68 469.91,317.38 470.7,316.07 471.48,314.76 472.26,313.44 473.02,312.11 473.77,310.78 474.5,309.44 475.23,308.1 475.94,306.74 476.65,305.39 477.34,304.03 478.02,302.66 478.7,301.29 479.36,299.91 480.03,298.53 480.69,297.16 481.36,295.78 482.04,294.41 482.72,293.05 483.41,291.68 484.1,290.32 484.79,288.95 485.48,287.59 486.17,286.23 486.86,284.86 487.56,283.5 488.25,282.14 488.94,280.77 489.63,279.41 490.32,278.05 491.02,276.69 491.72,275.33 492.41,273.97 493.11,272.61 493.82,271.25 494.52,269.9 495.23,268.54 495.94,267.19 496.64,265.83 497.35,264.47 498.05,263.12 498.75,261.76 499.44,260.4 500.14,259.04 500.84,257.67 501.53,256.31 502.22,254.95 502.91,253.58 503.59,252.22 504.28,250.85 504.96,249.48 505.64,248.12 506.33,246.75 507.02,245.39 507.71,244.02 508.4,242.66 509.1,241.3" fill="none" stroke="#e0603a" stroke-opacity="0.45" stroke-width="2.9" stroke-linejoin="round"/>
<polyline points="462.87,327.36 463.8,326.15 464.74,324.95 465.67,323.73 466.59,322.51 467.47,321.26 468.3,319.98 469.11,318.68 469.91,317.38 470.7,316.07 471.48,314.76 472.26,313.44 473.02,312.11 473.77,310.78 474.5,309.44 475.23,308.1 475.94,306.74 476.65,305.39 477.34,304.03 478.02,302.66 478.7,301.29 479.36,299.91 480.03,298.53 480.69,297.16 481.36,295.78 482.04,294.41 482.72,293.05 483.41,291.68 484.1,290.32 484.79,288.95 485.48,287.59 486.17,286.23 486.86,284.86 487.56,283.5 488.25,282.14 488.94,280.77 489.63,279.41 490.32,278.05 491.02,276.69 491.72,275.33 492.41,273.97 493.11,272.61 493.82,271.25 494.52,269.9 495.23,268.54 495.94,267.19 496.64,265.83 497.35,264.47 498.05,263.12 498.75,261.76 499.44,260.4 500.14,259.04 500.84,257.67 501.53,256.31 502.22,254.95 502.91,253.58 503.59,252.22 504.28,250.85 504.96,249.48 505.64,248.12 506.33,246.75 507.02,245.39 507.71,244.02 508.4,242.66 509.1,241.3" fill="none" stroke="#10a010" stroke-width="2.3" stroke-linejoin="round"/>
</svg>
</body></html>
